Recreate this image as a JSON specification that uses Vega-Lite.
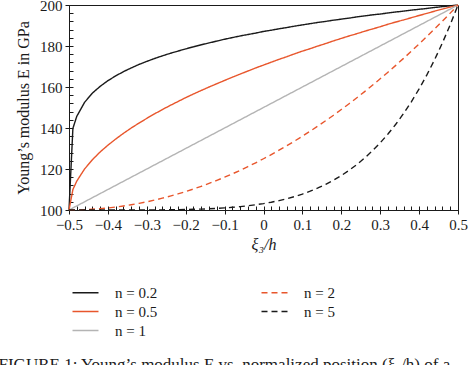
{
  "$schema": "https://vega.github.io/schema/vega-lite/v6.json",
  "width": 389,
  "height": 205,
  "autosize": {"type": "none"},
  "padding": {"left": 69, "top": 5, "right": 16, "bottom": 155},
  "config": {
    "view": {"stroke": "#1a1a1a", "strokeWidth": 1},
    "font": "Liberation Serif",
    "axis": {"labelFont": "Liberation Serif", "titleFont": "Liberation Serif", "labelColor": "#1a1a1a", "titleColor": "#1a1a1a", "tickColor": "#1a1a1a", "domainColor": "#1a1a1a", "grid": false, "labelFontSize": 15, "titleFontSize": 16, "titleFontWeight": "normal"}
  },
  "title": {"text": "FIGURE 1: Young’s modulus E vs. normalized position (ξ₃/h) of a", "orient": "bottom", "anchor": "start", "dx": -17, "offset": 18, "fontSize": 17, "fontWeight": "normal", "font": "Liberation Serif", "color": "#1a1a1a"},
  "data": {"values": [
    {"x": -0.5, "s02": 100, "s05": 100, "s1": 100, "s2": 100, "s5": 100},
    {"x": -0.49, "s02": 139.8, "s05": 110, "s1": 101, "s2": 100.01, "s5": 100},
    {"x": -0.48, "s02": 145.7, "s05": 114.1, "s1": 102, "s2": 100.04, "s5": 100},
    {"x": -0.46, "s02": 152.5, "s05": 120, "s1": 104, "s2": 100.16, "s5": 100},
    {"x": -0.44, "s02": 157, "s05": 124.5, "s1": 106, "s2": 100.36, "s5": 100},
    {"x": -0.42, "s02": 160.3, "s05": 128.3, "s1": 108, "s2": 100.64, "s5": 100},
    {"x": -0.4, "s02": 163.1, "s05": 131.6, "s1": 110, "s2": 101, "s5": 100},
    {"x": -0.38, "s02": 165.4, "s05": 134.6, "s1": 112, "s2": 101.44, "s5": 100},
    {"x": -0.36, "s02": 167.5, "s05": 137.4, "s1": 114, "s2": 101.96, "s5": 100.01},
    {"x": -0.34, "s02": 169.3, "s05": 140, "s1": 116, "s2": 102.56, "s5": 100.01},
    {"x": -0.32, "s02": 171, "s05": 142.4, "s1": 118, "s2": 103.24, "s5": 100.02},
    {"x": -0.3, "s02": 172.5, "s05": 144.7, "s1": 120, "s2": 104, "s5": 100.03},
    {"x": -0.28, "s02": 173.9, "s05": 146.9, "s1": 122, "s2": 104.84, "s5": 100.05},
    {"x": -0.26, "s02": 175.2, "s05": 149, "s1": 124, "s2": 105.76, "s5": 100.08},
    {"x": -0.24, "s02": 176.4, "s05": 151, "s1": 126, "s2": 106.76, "s5": 100.12},
    {"x": -0.22, "s02": 177.5, "s05": 152.9, "s1": 128, "s2": 107.84, "s5": 100.17},
    {"x": -0.2, "s02": 178.6, "s05": 154.8, "s1": 130, "s2": 109, "s5": 100.24},
    {"x": -0.18, "s02": 179.6, "s05": 156.6, "s1": 132, "s2": 110.24, "s5": 100.34},
    {"x": -0.16, "s02": 180.6, "s05": 158.3, "s1": 134, "s2": 111.56, "s5": 100.45},
    {"x": -0.14, "s02": 181.5, "s05": 160, "s1": 136, "s2": 112.96, "s5": 100.6},
    {"x": -0.12, "s02": 182.4, "s05": 161.6, "s1": 138, "s2": 114.44, "s5": 100.79},
    {"x": -0.1, "s02": 183.3, "s05": 163.2, "s1": 140, "s2": 116, "s5": 101.02},
    {"x": -0.08, "s02": 184.1, "s05": 164.8, "s1": 142, "s2": 117.64, "s5": 101.31},
    {"x": -0.06, "s02": 184.9, "s05": 166.3, "s1": 144, "s2": 119.36, "s5": 101.65},
    {"x": -0.04, "s02": 185.6, "s05": 167.8, "s1": 146, "s2": 121.16, "s5": 102.06},
    {"x": -0.02, "s02": 186.3, "s05": 169.3, "s1": 148, "s2": 123.04, "s5": 102.55},
    {"x": 0, "s02": 187.1, "s05": 170.7, "s1": 150, "s2": 125, "s5": 103.13},
    {"x": 0.02, "s02": 187.7, "s05": 172.1, "s1": 152, "s2": 127.04, "s5": 103.8},
    {"x": 0.04, "s02": 188.4, "s05": 173.5, "s1": 154, "s2": 129.16, "s5": 104.59},
    {"x": 0.06, "s02": 189, "s05": 174.8, "s1": 156, "s2": 131.36, "s5": 105.51},
    {"x": 0.08, "s02": 189.7, "s05": 176.2, "s1": 158, "s2": 133.64, "s5": 106.56},
    {"x": 0.1, "s02": 190.3, "s05": 177.5, "s1": 160, "s2": 136, "s5": 107.78},
    {"x": 0.12, "s02": 190.9, "s05": 178.7, "s1": 162, "s2": 138.44, "s5": 109.16},
    {"x": 0.14, "s02": 191.5, "s05": 180, "s1": 164, "s2": 140.96, "s5": 110.74},
    {"x": 0.16, "s02": 192, "s05": 181.2, "s1": 166, "s2": 143.56, "s5": 112.52},
    {"x": 0.18, "s02": 192.6, "s05": 182.5, "s1": 168, "s2": 146.24, "s5": 114.54},
    {"x": 0.2, "s02": 193.1, "s05": 183.7, "s1": 170, "s2": 149, "s5": 116.81},
    {"x": 0.22, "s02": 193.6, "s05": 184.9, "s1": 172, "s2": 151.84, "s5": 119.35},
    {"x": 0.24, "s02": 194.2, "s05": 186, "s1": 174, "s2": 154.76, "s5": 122.19},
    {"x": 0.26, "s02": 194.7, "s05": 187.2, "s1": 176, "s2": 157.76, "s5": 125.36},
    {"x": 0.28, "s02": 195.2, "s05": 188.3, "s1": 178, "s2": 160.84, "s5": 128.87},
    {"x": 0.3, "s02": 195.6, "s05": 189.4, "s1": 180, "s2": 164, "s5": 132.77},
    {"x": 0.32, "s02": 196.1, "s05": 190.6, "s1": 182, "s2": 167.24, "s5": 137.07},
    {"x": 0.34, "s02": 196.6, "s05": 191.7, "s1": 184, "s2": 170.56, "s5": 141.82},
    {"x": 0.36, "s02": 197, "s05": 192.7, "s1": 186, "s2": 173.96, "s5": 147.04},
    {"x": 0.38, "s02": 197.5, "s05": 193.8, "s1": 188, "s2": 177.44, "s5": 152.77},
    {"x": 0.4, "s02": 197.9, "s05": 194.9, "s1": 190, "s2": 181, "s5": 159.05},
    {"x": 0.42, "s02": 198.3, "s05": 195.9, "s1": 192, "s2": 184.64, "s5": 165.91},
    {"x": 0.44, "s02": 198.8, "s05": 197, "s1": 194, "s2": 188.36, "s5": 173.39},
    {"x": 0.46, "s02": 199.2, "s05": 198, "s1": 196, "s2": 192.16, "s5": 181.54},
    {"x": 0.48, "s02": 199.6, "s05": 199, "s1": 198, "s2": 196.04, "s5": 190.39},
    {"x": 0.5, "s02": 200, "s05": 200, "s1": 200, "s2": 200, "s5": 200}
  ]},
  "transform": [{"fold": ["s02", "s05", "s1", "s2", "s5"], "as": ["n", "E"]}],
  "layer": [
    {
      "mark": {"type": "line", "strokeWidth": 1.4},
      "encoding": {
        "x": {"field": "x", "type": "quantitative",
          "scale": {"domain": [-0.5, 0.5], "nice": false, "zero": false},
          "axis": {"orient": "bottom", "values": [-0.5, -0.4, -0.3, -0.2, -0.1, 0, 0.1, 0.2, 0.3, 0.4, 0.5], "format": ".1~f", "tickSize": 4, "labelPadding": 3, "title": "ξ₃/h", "titleFontStyle": "italic", "titlePadding": 4, "labelFlush": false, "labelOverlap": false}},
        "y": {"field": "E", "type": "quantitative",
          "scale": {"domain": [100, 200], "nice": false, "zero": false},
          "axis": {"orient": "left", "values": [100, 120, 140, 160, 180, 200], "tickSize": 4, "labelPadding": 3, "title": "Young’s modulus E in GPa", "titlePadding": 8, "labelFlush": false, "labelOverlap": false}},
        "color": {"field": "n", "type": "nominal",
          "scale": {"domain": ["s02", "s05", "s1", "s2", "s5"], "range": ["#1a1a1a", "#e8562c", "#b4b4b4", "#e8562c", "#1a1a1a"]},
          "legend": {"orient": "none", "legendX": 9, "legendY": 280, "columns": 2, "title": null, "symbolType": "M-2.6,0H2.6", "symbolSize": 100, "symbolStrokeWidth": 1.5, "labelFont": "Liberation Serif", "labelFontSize": 15, "labelColor": "#1a1a1a", "labelOffset": 22, "columnPadding": 100, "rowPadding": 3,
            "labelExpr": "{'s02': 'n = 0.2', 's05': 'n = 0.5', 's1': 'n = 1', 's2': 'n = 2', 's5': 'n = 5'}[datum.label]"}},
        "strokeDash": {"field": "n", "type": "nominal",
          "scale": {"domain": ["s02", "s05", "s1", "s2", "s5"], "range": [[1, 0], [1, 0], [1, 0], [6, 4], [6, 4]]},
          "legend": {"orient": "none", "legendX": 9, "legendY": 280, "columns": 2, "title": null, "symbolType": "M-2.6,0H2.6", "symbolSize": 100, "symbolStrokeWidth": 1.5, "labelFont": "Liberation Serif", "labelFontSize": 15, "labelColor": "#1a1a1a", "labelOffset": 22, "columnPadding": 100, "rowPadding": 3,
            "labelExpr": "{'s02': 'n = 0.2', 's05': 'n = 0.5', 's1': 'n = 1', 's2': 'n = 2', 's5': 'n = 5'}[datum.label]"}}
      }
    },
    {
      "mark": {"type": "point", "opacity": 0},
      "encoding": {
        "x": {"field": "x", "type": "quantitative",
          "axis": {"orient": "bottom", "values": [-0.5, -0.48, -0.46, -0.44, -0.42, -0.4, -0.38, -0.36, -0.34, -0.32, -0.3, -0.28, -0.26, -0.24, -0.22, -0.2, -0.18, -0.16, -0.14, -0.12, -0.1, -0.08, -0.06, -0.04, -0.02, 0, 0.02, 0.04, 0.06, 0.08, 0.1, 0.12, 0.14, 0.16, 0.18, 0.2, 0.22, 0.24, 0.26, 0.28, 0.3, 0.32, 0.34, 0.36, 0.38, 0.4, 0.42, 0.44, 0.46, 0.48, 0.5], "tickSize": -4, "labels": false, "domain": false, "title": null}},
        "y": {"field": "E", "type": "quantitative",
          "axis": {"orient": "left", "values": [100, 104, 108, 112, 116, 120, 124, 128, 132, 136, 140, 144, 148, 152, 156, 160, 164, 168, 172, 176, 180, 184, 188, 192, 196, 200], "tickSize": -4, "labels": false, "domain": false, "title": null}}
      }
    }
  ],
  "resolve": {"axis": {"x": "independent", "y": "independent"}}
}
